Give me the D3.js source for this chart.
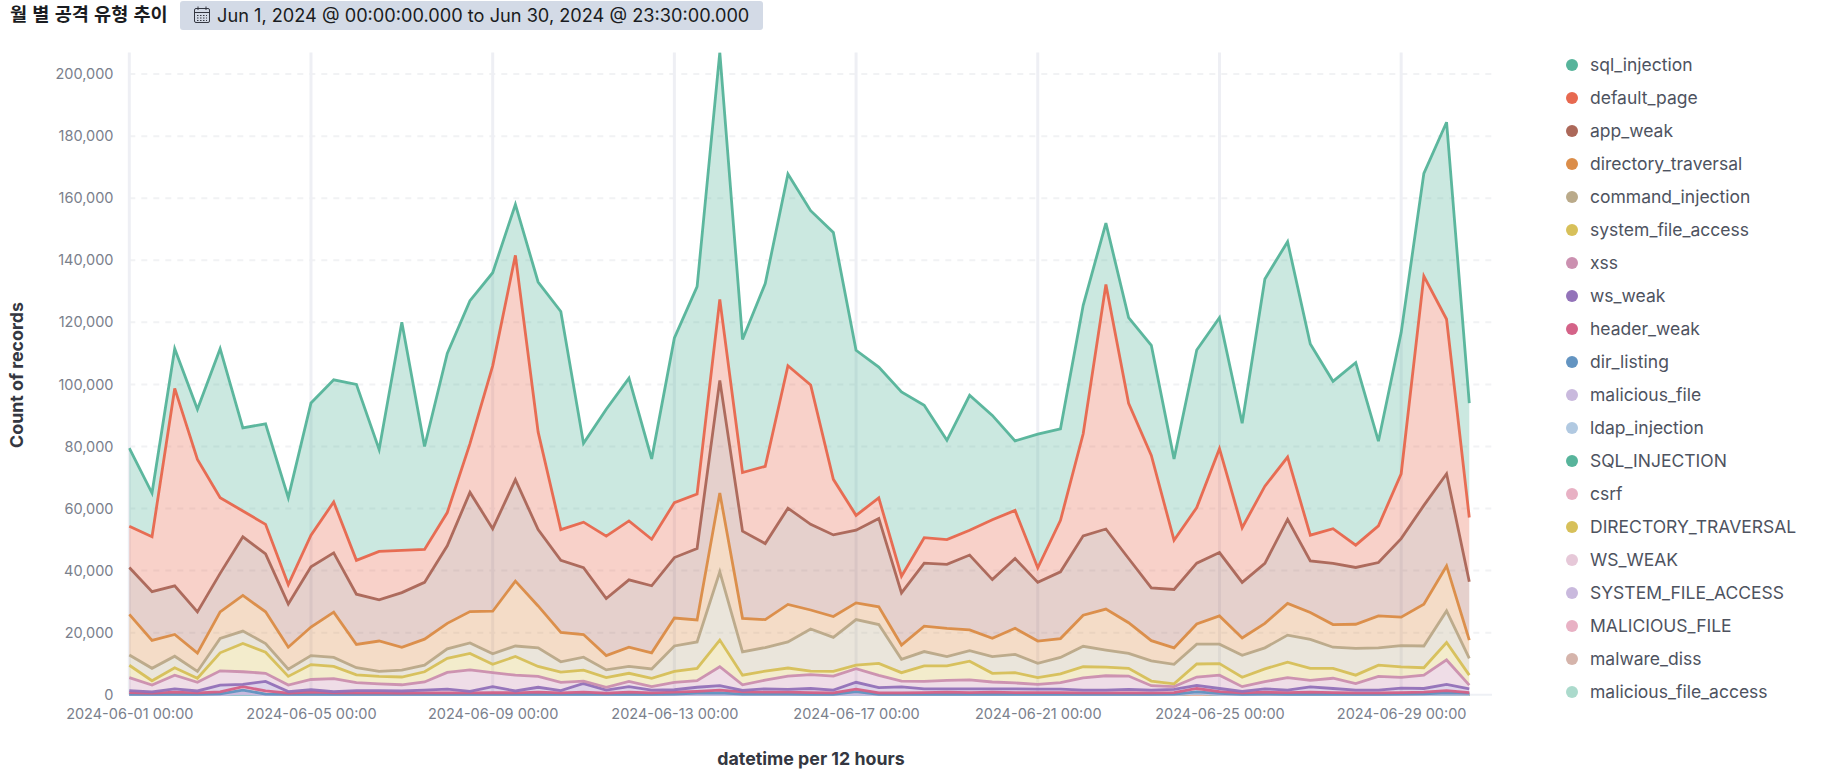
<!DOCTYPE html>
<html lang="ko">
<head>
<meta charset="utf-8">
<title>월 별 공격 유형 추이</title>
<script src="https://cdn.jsdelivr.net/npm/d3@7/dist/d3.min.js"></script>
<style>
  html, body { margin: 0; padding: 0; background: #fff; }
  svg { display: block; font-family: Inter, "Noto Sans", sans-serif; }
</style>
</head>
<body>
<svg id="chart" width="1833" height="779"></svg>
<script>
// Attack counts per 12-hour bucket, in thousands of records.
const RECORD_UNIT = 1000;
const CHART_TITLE = "월 별 공격 유형 추이";
const DATE_RANGE = "Jun 1, 2024 @ 00:00:00.000 to Jun 30, 2024 @ 23:30:00.000";
const X_TITLE = "datetime per 12 hours";
const Y_TITLE = "Count of records";
const FIRST_BUCKET = "2024-06-01T00:00:00Z";
const AXIS_END = "2024-07-01T00:00:00Z";
const Y_TICKS = [0, 20000, 40000, 60000, 80000, 100000, 120000, 140000, 160000, 180000, 200000];
const X_TICK_LABELS = ["2024-06-01 00:00", "2024-06-05 00:00", "2024-06-09 00:00", "2024-06-13 00:00",
  "2024-06-17 00:00", "2024-06-21 00:00", "2024-06-25 00:00", "2024-06-29 00:00"];
const Y_MAX = 207000;

const sql_injection = [25.2,14.1,12.8,16.2,48,26.8,32.4,28,42.6,39.4,56.7,32.8,73.5,33.2,51.3,46.1,30,16.4,48.3,70.3,25.4,40.9,46,25.9,53.1,66.8,79.6,42.9,58.9,61.8,56.2,79.6,53.2,42.2,59.4,42.7,32,43.5,33.6,22.4,43.1,29.5,41.4,19.8,27.6,35.5,26.2,50.8,42.2,33.7,66.8,69.4,61.6,47.5,58.8,27.3,45.5,33.1,63.5,36.9];
const default_page = [13.3,17.7,63.6,49.1,24.4,8.3,9.5,6.3,10.2,16.4,10.9,15.6,13.6,10.6,10.7,15.7,52.5,72.3,31.5,9.9,14.7,20.1,19,15,17.7,17.6,26.1,18.9,24.9,45.9,44.9,17.9,4.8,6.6,5.4,8.2,8,8,19.3,15.5,4.7,16.6,32.9,78.8,50,42.7,15.9,17.9,33.5,17.6,24.9,20.1,8.3,11.2,7.2,11.8,20.9,73.9,49.8,20.7];
const app_weak = [15.1,15.7,15.7,13.3,12.4,18.9,18.7,13.9,19.4,19.1,16.2,13.3,17.6,18.3,25,38.4,26.6,32.7,24.6,23.2,21.5,18.4,21.7,21.6,19.5,23,36.3,28.1,24.5,31,27.6,26.3,23.4,28.5,16.8,20.3,20.6,24.1,18.9,22.5,18.9,21.5,25.6,25.8,20.7,17,18.8,19.6,20.4,17.9,19.3,27.1,16.6,19.7,18.3,17.2,25.3,31.8,29.7,18.8];
const directory_traversal = [13.1,9,7,5.9,8.6,11.5,10.2,7.1,9.2,14.6,7.5,9.8,7.4,8.4,8.2,10.1,13.7,20.9,13.5,9.5,7.3,4.6,6.2,5.2,9,7.1,25.4,10.8,9,12.1,6.1,6.7,5.4,5.7,4.6,8.2,9.1,6.7,5.9,8.4,7.2,6.1,10,13.2,9.9,6.5,5.3,6.5,9.1,5.6,7.9,10.2,8.7,7.3,7.8,10.3,9.2,13.5,14.5,5.9];
const command_injection = [3.3,4,3.7,2.2,4.6,4,2.8,2.3,2.9,2.9,2.3,1.6,2.2,2.1,3.1,3.4,3.4,3.4,6,3.3,4.2,2.5,2.2,3,8.2,8.5,22,7.5,7.6,8.4,13.6,11,14.7,12.5,4.3,4.6,3,3.4,5.4,5.9,4.6,5.3,6.6,5.5,4.8,6.5,6.3,6.4,6.3,7.1,6.8,8.7,9.3,6.8,8.6,5.6,6.8,7,10.2,5.4];
const system_file_access = [4,1.4,2.4,1.3,5.8,9.1,6.8,2.8,4.8,3.9,2.5,2.4,2.5,3.3,4.5,5.3,2.7,6,3.2,3.3,3.5,3.1,2.6,2.7,3.5,4,8.6,3.1,2.9,2.6,1.1,1.5,1.1,3.9,2.7,5,4.7,6,2.8,3.3,2.2,2.8,3.6,2.8,2.5,1.5,0.9,4.2,3.7,3,4.1,5,3.9,3.2,2.7,3.6,3.4,2.4,5.6,3.2];
const xss = [4.2,2.2,4.4,2.8,4.6,4.1,2.6,2.1,3.3,4.2,2.6,2.2,2,2.6,5.4,6.9,4.5,5.1,3.5,2.7,0.8,0.9,1.7,1.1,2.4,2.1,6.1,1.8,2.8,4.3,4.5,4.5,4.4,3.9,1.9,2.4,2.7,2.9,2.2,1.9,1.5,2.1,3.9,4.6,4.3,1.4,0.9,2.7,4.3,1.5,2.3,4,2.1,3.3,2.1,4.4,3.5,4.3,7.9,1.2];
const ws_weak = [0.6,0.4,1.1,0.6,2.2,0.7,3.1,0.5,0.8,0.4,0.7,0.7,0.7,0.9,1.2,0.5,1.9,0.6,1.6,0.7,2.8,1,1.8,0.9,0.8,1.3,1.4,0.5,1.1,0.9,1.3,0.9,2.2,1.7,1.9,1.2,1.1,1.2,1.1,1.2,1.1,1.1,0.9,0.9,1.1,0.9,1,1,1,0.5,1.1,0.8,1.7,1.3,0.9,0.9,1.4,1.2,2,1.2];
const header_weak = [0.55,0.4,0.65,0.5,0.6,1.1,1,0.4,0.7,0.5,0.5,0.5,0.4,0.5,0.5,0.5,0.55,0.5,0.6,0.5,0.6,0.4,0.65,0.5,0.6,0.6,0.9,0.7,0.6,0.6,0.55,0.5,0.8,0.5,0.5,0.6,0.7,0.6,0.7,0.6,0.6,0.6,0.45,0.5,0.5,0.5,0.5,1.1,0.6,0.5,0.6,0.6,0.6,0.6,0.5,0.5,0.5,0.5,0.7,0.3];
const dir_listing = [0.15,0.1,0.15,0.1,0.3,1,0.2,0.1,0.1,0.1,0.1,0.1,0.1,0.1,0.1,0.1,0.15,0.1,0.2,0.1,0.2,0.1,0.15,0.1,0.2,0.4,0.4,0.2,0.2,0.2,0.15,0.1,0.7,0.1,0.1,0.1,0.1,0.1,0.1,0.1,0.1,0.1,0.15,0.1,0.1,0.1,0.1,0.3,0.2,0.1,0.2,0.1,0.2,0.1,0.1,0.1,0.2,0.2,0.3,0.2];
const malicious_file = [0,0,0,0,0,0.3,0,0,0,0,0,0,0,0,0,0,0,0,0,0,0,0,0,0,0,0.1,0.15,0,0,0,0,0,0.2,0,0,0,0,0,0,0,0,0,0,0,0,0,0,0.1,0.1,0,0,0,0,0,0,0,0,0.1,0.2,0.1];
const ldap_injection = [0,0,0,0,0,0.2,0,0,0,0,0,0,0,0,0,0,0,0,0,0,0,0,0,0,0,0,0,0,0,0,0,0,0.1,0,0,0,0,0,0,0,0,0,0,0,0,0,0,0.1,0,0,0,0,0,0,0,0,0,0,0.1,0.1];
const SQL_INJECTION = [0,0,0,0,0,0,0,0,0,0,0,0,0,0,0,0,0,0,0,0,0,0,0,0,0,0,0,0,0,0,0,0,0,0,0,0,0,0,0,0,0,0,0,0,0,0,0.1,0.2,0.1,0,0,0,0,0,0,0,0,0,0,0];
const csrf = [0,0,0,0,0,0,0,0,0,0,0,0,0,0,0,0,0,0,0,0,0,0,0,0,0,0,0.05,0,0,0,0,0,0,0,0,0,0,0,0,0,0,0,0,0,0,0,0,0.05,0,0,0,0,0,0,0,0,0,0,0,0];
const DIRECTORY_TRAVERSAL = [0,0,0,0,0,0,0,0,0,0,0,0,0,0,0,0,0,0,0,0,0,0,0,0,0,0,0,0,0,0,0,0,0,0,0,0,0,0,0,0,0,0,0,0,0,0,0,0.05,0,0,0,0,0,0,0,0,0,0,0,0];
const WS_WEAK = [0,0,0,0,0,0,0,0,0,0,0,0,0,0,0,0,0,0,0,0,0,0,0,0,0,0,0,0,0,0,0,0,0,0,0,0,0,0,0,0,0,0,0,0,0,0,0,0,0,0,0,0,0,0,0,0,0,0,0,0];
const SYSTEM_FILE_ACCESS = [0,0,0,0,0,0,0,0,0,0,0,0,0,0,0,0,0,0,0,0,0,0,0,0,0,0,0,0,0,0,0,0,0,0,0,0,0,0,0,0,0,0,0,0,0,0,0,0,0,0,0,0,0,0,0,0,0,0,0,0];
const MALICIOUS_FILE = [0,0,0,0,0,0,0,0,0,0,0,0,0,0,0,0,0,0,0,0,0,0,0,0,0,0,0,0,0,0,0,0,0,0,0,0,0,0,0,0,0,0,0,0,0,0,0,0,0,0,0,0,0,0,0,0,0,0,0,0];
const malware_diss = [0,0,0,0,0,0,0,0,0,0,0,0,0,0,0,0,0,0,0,0,0,0,0,0,0,0,0,0,0,0,0,0,0,0,0,0,0,0,0,0,0,0,0,0,0,0,0,0.05,0,0,0,0,0,0,0,0,0,0,0,0];
const malicious_file_access = [0,0,0,0,0,0,0,0,0,0,0,0,0,0,0,0,0,0,0,0,0,0,0,0,0,0,0,0,0,0,0,0,0,0,0,0,0,0,0,0,0,0,0,0,0,0,0,0.05,0,0,0,0,0,0,0,0,0,0,0,0];

// Legend order runs from the top of the stack to its bottom.
const SERIES_NAMES = ["sql_injection","default_page","app_weak","directory_traversal","command_injection",
  "system_file_access","xss","ws_weak","header_weak","dir_listing","malicious_file","ldap_injection",
  "SQL_INJECTION","csrf","DIRECTORY_TRAVERSAL","WS_WEAK","SYSTEM_FILE_ACCESS","MALICIOUS_FILE",
  "malware_diss","malicious_file_access"];
const SERIES_VALUES = [sql_injection,default_page,app_weak,directory_traversal,command_injection,
  system_file_access,xss,ws_weak,header_weak,dir_listing,malicious_file,ldap_injection,
  SQL_INJECTION,csrf,DIRECTORY_TRAVERSAL,WS_WEAK,SYSTEM_FILE_ACCESS,MALICIOUS_FILE,
  malware_diss,malicious_file_access];
const SERIES_COLORS = ["#54B399","#E7664C","#AA6556","#DA8B45","#B9A888","#D6BF57","#CA8EAE","#9170B8",
  "#D36086","#6092C0","#C8B8DC","#AFC8E0","#54B399","#E8AFC3","#D6BF57","#E5C7D7","#C8B8DC","#E8AFC3",
  "#D4B2A9","#A9D9CB"];

const svg = d3.select("#chart");
const plot = { left: 129.3, right: 1492, top: 52.4, bottom: 694.7 };
const TWELVE_HOURS = 12 * 3600 * 1000;
const start = new Date(FIRST_BUCKET).getTime();

const rows = sql_injection.map((_, i) => {
  const row = { date: new Date(start + i * TWELVE_HOURS) };
  SERIES_NAMES.forEach((name, s) => { row[name] = SERIES_VALUES[s][i] * RECORD_UNIT; });
  return row;
});

const x = d3.scaleUtc().domain([new Date(FIRST_BUCKET), new Date(AXIS_END)]).range([plot.left, plot.right]);
const y = d3.scaleLinear().domain([0, Y_MAX]).range([plot.bottom, plot.top]);

const stack = d3.stack()
  .keys(SERIES_NAMES.slice().reverse())
  .order(d3.stackOrderNone)
  .offset(d3.stackOffsetNone);
const layers = stack(rows);

svg.append("defs").append("clipPath").attr("id", "plot-clip")
  .append("rect")
  .attr("x", plot.left - 1).attr("y", plot.top)
  .attr("width", plot.right - plot.left + 2).attr("height", plot.bottom - plot.top + 2);

// Gridlines sit under the translucent areas.
const xTickDates = X_TICK_LABELS.map(t => new Date(t.replace(" ", "T") + ":00Z"));

svg.append("g").selectAll("line").data(Y_TICKS.filter(d => d > 0)).join("line")
  .attr("x1", plot.left).attr("x2", plot.right)
  .attr("y1", d => y(d)).attr("y2", d => y(d))
  .attr("stroke", "#F1F2F4").attr("stroke-width", 2).attr("stroke-dasharray", "6 6");

svg.append("g").selectAll("line").data(xTickDates).join("line")
  .attr("x1", d => x(d)).attr("x2", d => x(d))
  .attr("y1", plot.top).attr("y2", plot.bottom)
  .attr("stroke", "#EEEFF4").attr("stroke-width", 3);

svg.append("line")
  .attr("x1", plot.left).attr("x2", plot.right)
  .attr("y1", plot.bottom).attr("y2", plot.bottom)
  .attr("stroke", "#EEF0F5").attr("stroke-width", 2);

// Stacked areas with a solid line along each upper edge.
const area = d3.area().x(d => x(d.data.date)).y0(d => y(d[0])).y1(d => y(d[1])).curve(d3.curveLinear);
const topLine = d3.line().x(d => x(d.data.date)).y(d => y(d[1])).curve(d3.curveLinear);
const colorOf = d3.scaleOrdinal().domain(SERIES_NAMES).range(SERIES_COLORS);

const marks = svg.append("g").attr("clip-path", "url(#plot-clip)");
marks.append("g").selectAll("path").data(layers).join("path")
  .attr("d", area)
  .attr("fill", d => colorOf(d.key))
  .attr("fill-opacity", 0.3);
marks.append("g").selectAll("path").data(layers).join("path")
  .attr("d", topLine)
  .attr("fill", "none")
  .attr("stroke", d => colorOf(d.key))
  .attr("stroke-width", 2.8)
  .attr("stroke-opacity", 0.95)
  .attr("stroke-linejoin", "miter");

// Axes
const yAxis = d3.axisLeft(y).tickValues(Y_TICKS).tickSize(0).tickPadding(0).tickFormat(d3.format(","));
const yAxisG = svg.append("g").attr("transform", "translate(113.5,0)").call(yAxis);
const xAxis = d3.axisBottom(x).tickValues(xTickDates).tickSize(0).tickPadding(0)
  .tickFormat((d, i) => X_TICK_LABELS[i]);
const xAxisG = svg.append("g").attr("transform", "translate(0,708.5)").call(xAxis);
[yAxisG, xAxisG].forEach(g => {
  g.select(".domain").remove();
  g.selectAll("text").attr("fill", "#7A808C").style("font-size", "14.5px")
    .style("font-family", "Inter, sans-serif");
});

svg.append("text")
  .attr("transform", "translate(23,375) rotate(-90)")
  .attr("text-anchor", "middle")
  .attr("fill", "#343741")
  .style("font-size", "17.8px").style("font-weight", 700)
  .text(Y_TITLE);

svg.append("text")
  .attr("x", 811).attr("y", 765)
  .attr("text-anchor", "middle")
  .attr("fill", "#343741")
  .style("font-size", "17.8px").style("font-weight", 700)
  .text(X_TITLE);

// Legend
const legendY = d3.scalePoint().domain(SERIES_NAMES).range([65, 692]);
const legend = svg.append("g").selectAll("g").data(SERIES_NAMES).join("g")
  .attr("transform", d => `translate(1572,${legendY(d)})`);
legend.append("circle").attr("r", 6).attr("fill", d => colorOf(d)).attr("fill-opacity", 0.98);
legend.append("text")
  .attr("x", 18).attr("dy", "0.35em")
  .attr("fill", "#4E535F")
  .style("font-size", "17.5px")
  .text(d => d);

// Title and time range badge
svg.append("text")
  .attr("x", 10).attr("y", 21)
  .attr("fill", "#1A1C21")
  .style("font-family", '"Noto Sans CJK KR", sans-serif')
  .style("font-size", "18.6px").style("font-weight", 700)
  .text(CHART_TITLE);

svg.append("rect")
  .attr("x", 180).attr("y", 1).attr("width", 583).attr("height", 29)
  .attr("rx", 3).attr("fill", "#D3DAE6");

const icon = svg.append("g").attr("transform", "translate(194,6)")
  .attr("fill", "none").attr("stroke", "#343741");
icon.append("rect").attr("x", 0.5).attr("y", 2.5).attr("width", 15).attr("height", 14).attr("rx", 1.5);
icon.append("path").attr("d", "M0.5 6.5H15.5M4 0.5V4M12 0.5V4");
icon.append("path").attr("stroke-dasharray", "1.5 1.5").attr("d", "M3 9.5H13M3 12H13M3 14.5H13");

svg.append("text")
  .attr("x", 217).attr("y", 22)
  .attr("fill", "#1A1C21")
  .style("font-size", "18.2px")
  .text(DATE_RANGE);
</script>
</body>
</html>
